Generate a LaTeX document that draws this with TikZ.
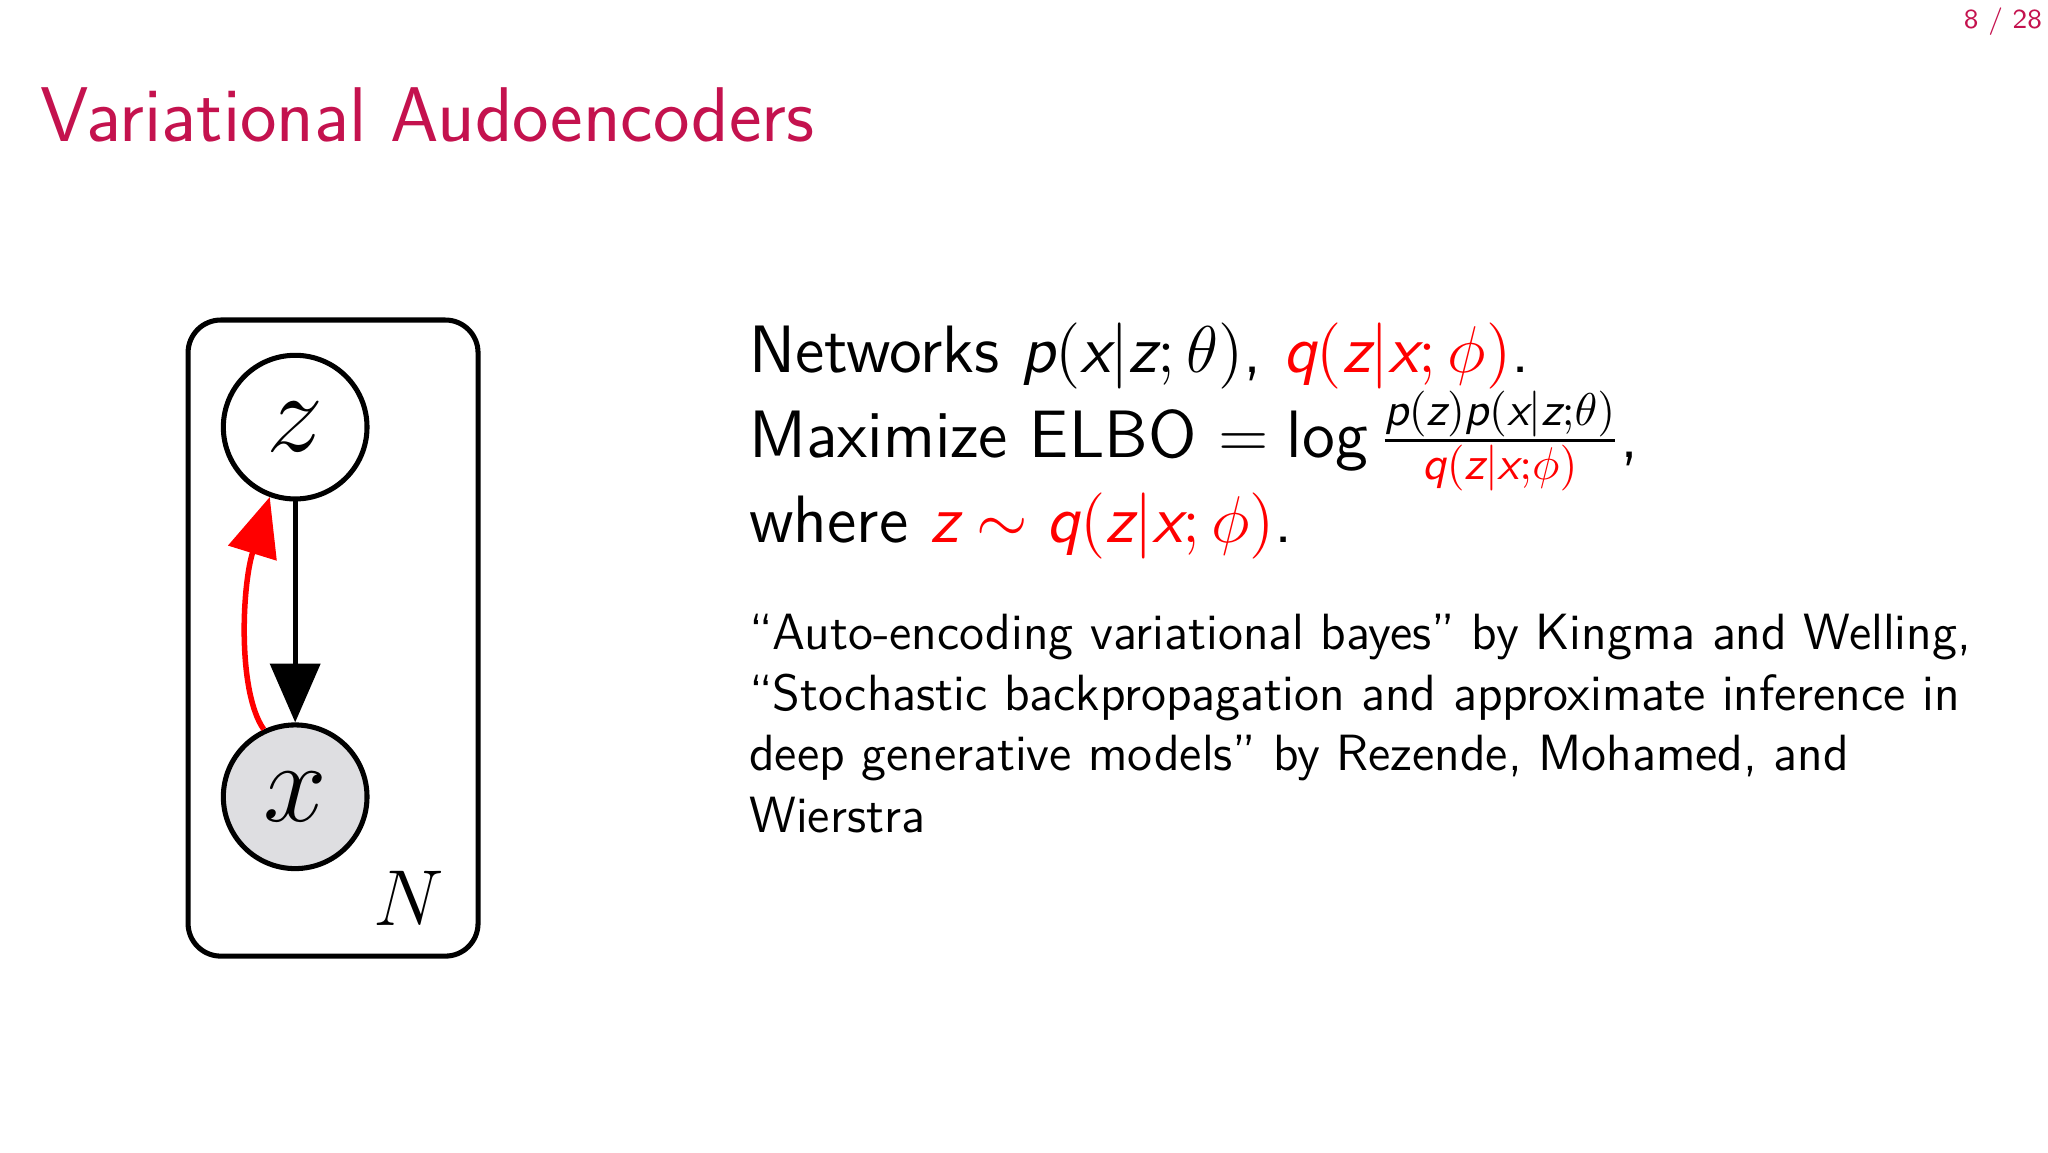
\documentclass[tikz,border=0pt]{standalone}
\usepackage{amsmath}
\usepackage{fontspec}
\usetikzlibrary{arrows.meta}
\renewcommand{\familydefault}{\sfdefault}
\definecolor{titlec}{RGB}{196,18,78}
\newcommand{\sv}[1]{\text{\sffamily\slshape #1}}
\tikzset{
  txt/.style={anchor=base west, inner sep=0pt},
  var/.style={circle, draw, line width=1.1pt, minimum size=1.1cm, inner sep=0pt, font=\fontsize{23}{26}\selectfont},
  bigtip/.style={-{Triangle[length=0.45cm,width=0.38cm]}}
}
\begin{document}
\begin{tikzpicture}
\useasboundingbox (0,0) rectangle (15.68,-8.82);
\node[txt, text=titlec, font=\fontsize{16.9}{20}\selectfont] (title) at (0.3,-1.08) {Variational Audoencoders};
\node[anchor=north east, inner sep=0pt, text=titlec, font=\fontsize{6}{7}\selectfont] (pg) at (15.64,-0.05) {8 / 28};
% plate
\draw[line width=1.1pt, rounded corners=0.25cm] (1.44,-2.45) rectangle (3.66,-7.32);
\node[var] (z) at (2.26,-3.27) {$z$};
\node[var, fill={rgb,255:red,222;green,222;blue,225}] (x) at (2.26,-6.10) {$x$};
\node[inner sep=0pt, font=\fontsize{18}{20}\selectfont] (N) at (3.13,-6.88) {$N$};
\draw[bigtip, line width=1.1pt] (z) -- (x);
\draw[bigtip, red, line width=1.2pt] (x.115) .. controls (1.82,-5.3) and (1.85,-4.5) .. (z.250);
% text
\begin{scope}[font=\fontsize{14.6}{17}\selectfont]
\node[txt] (l1) at (5.73,-2.85) {Networks $\sv{p}(\sv{x}|\sv{z};\theta)$, \textcolor{red}{$\sv{q}(\sv{z}|\sv{x};\phi)$}.};
\node[txt] (l2) at (5.73,-3.50) {Maximize ELBO $=\text{\sffamily log}\,\frac{\sv{p}(\sv{z})\sv{p}(\sv{x}|\sv{z};\theta)}{\textcolor{red}{\sv{q}(\sv{z}|\sv{x};\phi)}}$,};
\node[txt] (l3) at (5.73,-4.15) {where \textcolor{red}{$\sv{z}\sim \sv{q}(\sv{z}|\sv{x};\phi)$}.};
\end{scope}
\begin{scope}[font=\fontsize{11.1}{13}\selectfont]
\node[txt] (c1) at (5.73,-4.97) {``Auto-encoding variational bayes'' by Kingma and Welling,};
\node[txt] (c2) at (5.73,-5.44) {``Stochastic backpropagation and approximate inference in};
\node[txt] (c3) at (5.73,-5.90) {deep generative models'' by Rezende, Mohamed, and};
\node[txt] (c4) at (5.73,-6.37) {Wierstra};
\end{scope}
\end{tikzpicture}
\end{document}
